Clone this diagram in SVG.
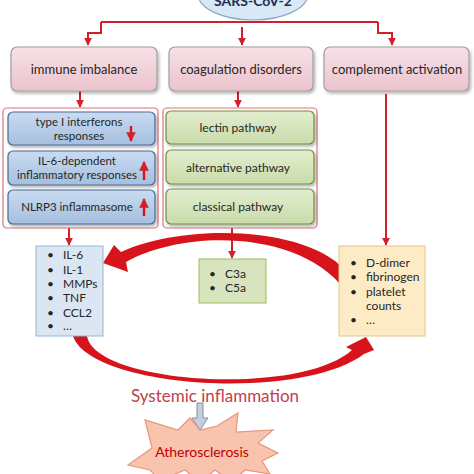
<svg xmlns="http://www.w3.org/2000/svg" width="474" height="474" viewBox="0 0 474 474">
<defs>
<linearGradient id="gPink" x1="0" y1="0" x2="0" y2="1"><stop offset="0" stop-color="#f7e1e7"/><stop offset="1" stop-color="#ebc3cd"/></linearGradient>
<linearGradient id="gBlue" x1="0" y1="0" x2="0" y2="1"><stop offset="0" stop-color="#c9dbf0"/><stop offset="1" stop-color="#a5bfe0"/></linearGradient>
<linearGradient id="gGreen" x1="0" y1="0" x2="0" y2="1"><stop offset="0" stop-color="#e2edcf"/><stop offset="1" stop-color="#c9dcaa"/></linearGradient>
<filter id="sh" x="-10%" y="-10%" width="130%" height="140%"><feDropShadow dx="1.5" dy="2" stdDeviation="1.5" flood-color="#000" flood-opacity="0.3"/></filter>
<marker id="ah" viewBox="0 0 10 10" refX="9" refY="5" markerWidth="4" markerHeight="4" orient="auto" markerUnits="strokeWidth"><path d="M0,0 L10,5 L0,10 Z" fill="#d0202a"/></marker>
</defs>
<style>
.t{font-family:Lato,"Liberation Sans",sans-serif;fill:#262626;}
.pk{fill:url(#gPink);stroke:#a0a0a0;stroke-width:1.2;filter:url(#sh);}
.bl{fill:url(#gBlue);stroke:#4a6a90;stroke-width:1.2;filter:url(#sh);}
.gr{fill:url(#gGreen);stroke:#6e8f3e;stroke-width:1.2;filter:url(#sh);}
.ct{fill:none;stroke:#e07078;stroke-width:1.2;}
.ln{fill:none;stroke:#d0202a;stroke-width:1.8;}
.ar{fill:none;stroke:#d0202a;stroke-width:2;marker-end:url(#ah);}
.up{fill:none;stroke:#e0101a;stroke-width:2.4;marker-end:url(#ah);}
.big{fill:#d7141c;}
</style>

<g id="sars">
<ellipse cx="253" cy="-6" rx="55" ry="26" fill="#d9e8f7" stroke="#8fa6c4" stroke-width="1.2"/>
<text x="253" y="6" text-anchor="middle" class="t" style="font-size:14px;font-weight:bold;fill:#1f3050">SARS-CoV-2</text>
</g>

<g id="connectors">
<path class="ln" d="M101,22 H378"/>
<path class="ar" d="M101,22 V33 H88 V45"/>
<path class="ar" d="M242,27 V45"/>
<path class="ar" d="M378,22 V33 H392 V45"/>
<path class="ar" d="M80,91 V107"/>
<path class="ar" d="M238,91 V107"/>
<path class="ar" d="M386,94 V245"/>
<path class="ar" d="M69,228 V245"/>
<path class="ar" d="M232,228 V258"/>
<path class="big" d="M345,270 C305,226 185,223 121,252 L114,245 L103,263 L128,272 L126,262 C185,229 300,230 345,290 Z"/>
<path class="big" d="M73,336 C90,388 300,402 364,354 L374,350 L366,337 L346,347 L352,350 C300,397 95,384 87,336 Z"/>
<path d="M197,403 H203 V418 H208 L200,430 L192,418 H197 Z" fill="#c5cfdc" stroke="#7f8fa6" stroke-width="1"/>
</g>

<g id="immune">
<rect class="pk" x="11" y="47" width="146" height="44" rx="6"/>
<text x="84" y="74" text-anchor="middle" class="t" style="font-size:13px">immune imbalance</text>
</g>
<g id="coag">
<rect class="pk" x="169" y="47" width="144" height="44" rx="6"/>
<text x="241" y="74" text-anchor="middle" class="t" style="font-size:13px">coagulation disorders</text>
</g>
<g id="complement">
<rect class="pk" x="324" y="47" width="145" height="44" rx="6"/>
<text x="397" y="74" text-anchor="middle" class="t" style="font-size:13px">complement activation</text>
</g>

<g id="immune-group">
<rect class="ct" x="3" y="108" width="155" height="120" rx="4"/>
<rect class="bl" x="8" y="112" width="147" height="33" rx="5"/>
<text x="79" y="126" text-anchor="middle" class="t" style="font-size:11.5px">type I interferons</text>
<text x="79" y="140" text-anchor="middle" class="t" style="font-size:11.5px">responses</text>
<path class="up" d="M131,126 V141"/>
<rect class="bl" x="8" y="151" width="147" height="34" rx="5"/>
<text x="77" y="165" text-anchor="middle" class="t" style="font-size:11.5px">IL-6-dependent</text>
<text x="77" y="179" text-anchor="middle" class="t" style="font-size:11.5px">inflammatory responses</text>
<path class="up" d="M144,180 V162"/>
<rect class="bl" x="8" y="190" width="147" height="34" rx="5"/>
<text x="77" y="211" text-anchor="middle" class="t" style="font-size:11.5px">NLRP3 inflammasome</text>
<path class="up" d="M144,216 V199"/>
</g>

<g id="coag-group">
<rect class="ct" x="163" y="108" width="154" height="120" rx="4"/>
<rect class="gr" x="166" y="111" width="148" height="33" rx="5"/>
<text x="238" y="132" text-anchor="middle" class="t" style="font-size:12px">lectin pathway</text>
<rect class="gr" x="166" y="150" width="148" height="34" rx="5"/>
<text x="238" y="172" text-anchor="middle" class="t" style="font-size:12px">alternative pathway</text>
<rect class="gr" x="166" y="189" width="148" height="35" rx="5"/>
<text x="238" y="211" text-anchor="middle" class="t" style="font-size:12px">classical pathway</text>
</g>

<g id="cytokines">
<rect x="36" y="246" width="67" height="90" fill="#dce6f2" stroke="#95b3d7" stroke-width="1"/>
<g class="t" style="font-size:12px">
<text x="47" y="259">•</text><text x="63" y="259">IL-6</text>
<text x="47" y="273.5">•</text><text x="63" y="273.5">IL-1</text>
<text x="47" y="288">•</text><text x="63" y="288">MMPs</text>
<text x="47" y="302">•</text><text x="63" y="302">TNF</text>
<text x="47" y="316.5">•</text><text x="63" y="316.5">CCL2</text>
<text x="47" y="330">•</text><text x="63" y="330">…</text>
</g>
</g>

<g id="c3a">
<rect x="199" y="259" width="67" height="44" fill="#d7e4bd" stroke="#9bbb59" stroke-width="1"/>
<g class="t" style="font-size:12px">
<text x="209" y="278">•</text><text x="225" y="278">C3a</text>
<text x="209" y="292">•</text><text x="225" y="292">C5a</text>
</g>
</g>

<g id="markers">
<rect x="339" y="246" width="86" height="90" fill="#fdebc6" stroke="#e2c68a" stroke-width="1"/>
<g class="t" style="font-size:12px">
<text x="350" y="267">•</text><text x="366" y="267">D-dimer</text>
<text x="350" y="281">•</text><text x="366" y="281">fibrinogen</text>
<text x="350" y="296">•</text><text x="366" y="296">platelet</text>
<text x="366" y="310">counts</text>
<text x="350" y="324">•</text><text x="366" y="324">…</text>
</g>
</g>

<g id="systemic">
<text x="215" y="402" text-anchor="middle" class="t" style="font-size:17px;fill:#c0404d">Systemic inflammation</text>
</g>

<g id="athero">
<path d="M128,465 L152,448 L145,420 L178,430 L190,418 L200,430 L217,426 L238,413 L236,432 L273,430 L258,443 L278,453 L262,461 L270,474 L245,470 L232,482 L215,470 L200,482 L185,470 L160,480 L150,470 Z" fill="#f9c4ad" stroke="#e8957a" stroke-width="1.2"/>
<text x="202" y="457" text-anchor="middle" class="t" style="font-size:14px;fill:#c00000">Atherosclerosis</text>
</g>
</svg>
